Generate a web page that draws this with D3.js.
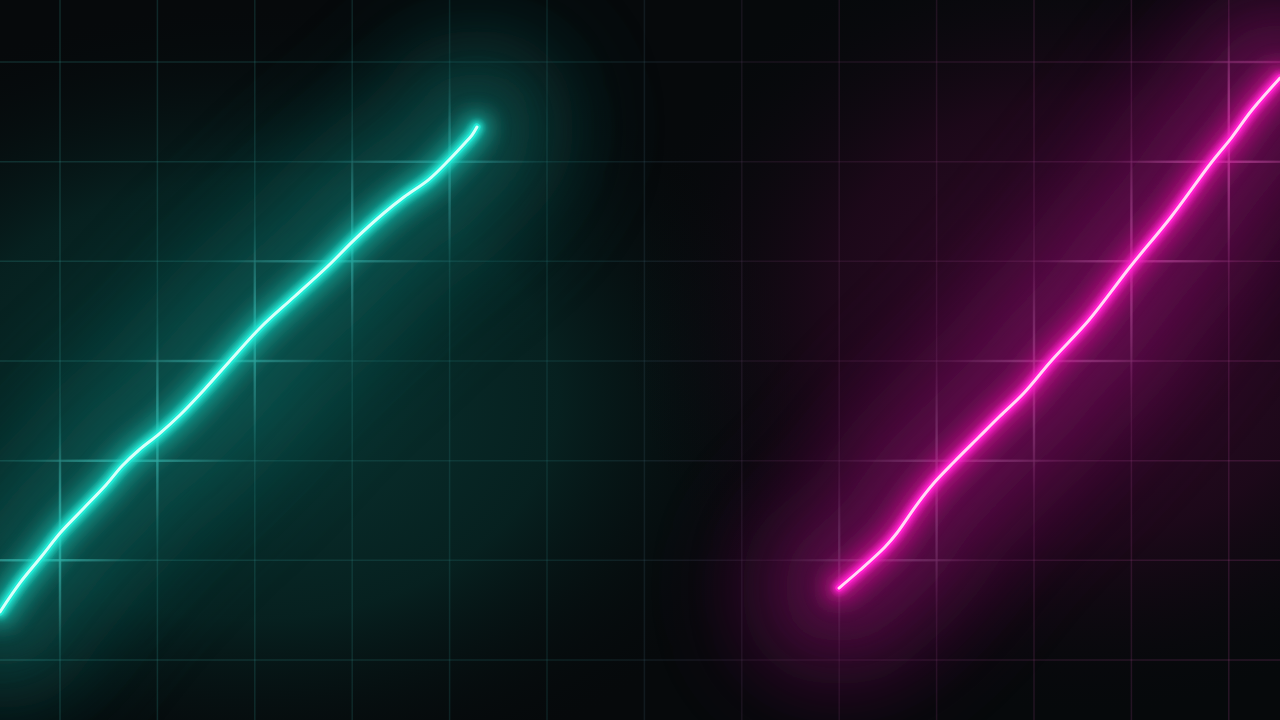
<!DOCTYPE html>
<html><head><meta charset="utf-8">
<script src="https://cdn.jsdelivr.net/npm/d3@7"></script>
<style>html,body{margin:0;padding:0;background:#06090b;overflow:hidden}svg{display:block}</style>
</head><body>
<svg id="c" width="1280" height="720"></svg>
<script>
// grid units
const gridX = [0,1,2,3,4,5,6,7,8,9,10,11,12];
const gridY = [0,1,2,3,4,5,6];
// cyan series
const cyanX = [-0.616,-0.411,-0.195,0.010,0.226,0.472,0.637,0.811,1.016,1.232,1.478,1.735,2.064,2.402,2.741,3.029,3.326,3.532,3.789,3.994,4.158,4.230,4.281];
const cyanY = [0.482,0.773,1.033,1.284,1.505,1.756,1.946,2.107,2.267,2.458,2.709,2.990,3.341,3.642,3.943,4.223,4.485,4.645,4.823,5.017,5.187,5.267,5.348];
// magenta series
const magX = [7.998,8.214,8.470,8.593,8.809,8.973,9.179,9.435,9.641,9.897,10.185,10.565,10.986,11.407,11.817,12.033,12.238,12.526];
const magY = [0.722,0.903,1.134,1.274,1.575,1.776,1.987,2.237,2.438,2.679,3.010,3.411,3.943,4.445,4.987,5.247,5.518,5.839];

const W = 1280, H = 720;
const x = d3.scaleLinear().domain([0,12]).range([60,1228.8]);
const y = d3.scaleLinear().domain([0,6]).range([660,62]);
const svg = d3.select("#c");
const defs = svg.append("defs");

function radial(id, stops){
  const g = defs.append("radialGradient").attr("id",id);
  stops.forEach(s=>g.append("stop").attr("offset",s[0]).attr("stop-color",s[1]).attr("stop-opacity",s[2]));
}
radial("tealGlow", [[0,"#0a433f",1],[0.55,"#07302d",0.75],[1,"#06090b",0]]);
radial("magGlow", [[0,"#4a0c3a",1],[0.55,"#300826",0.7],[1,"#06090b",0]]);

const lg = defs.append("linearGradient").attr("id","gridCol").attr("gradientUnits","userSpaceOnUse")
  .attr("x1",0).attr("y1",0).attr("x2",W).attr("y2",0);
[[0,"#3fb8b0"],[0.45,"#2a7f80"],[0.6,"#6a3a66"],[1,"#c04aa0"]].forEach(s=>lg.append("stop").attr("offset",s[0]).attr("stop-color",s[1]));

function blur(id, s){
  defs.append("filter").attr("id",id).attr("filterUnits","userSpaceOnUse")
    .attr("x",-400).attr("y",-400).attr("width",W+800).attr("height",H+800)
    .append("feGaussianBlur").attr("stdDeviation",s);
}
blur("b3",3); blur("b10",10); blur("b25",25); blur("b45",45);

const line = d3.line().x(d=>x(d[0])).y(d=>y(d[1])).curve(d3.curveCatmullRom.alpha(0.5));
const cyan = cyanX.map((v,i)=>[v,cyanY[i]]);
const mag = magX.map((v,i)=>[v,magY[i]]);

// background
svg.append("rect").attr("width",W).attr("height",H).attr("fill","#06090b");
svg.append("ellipse").attr("cx",250).attr("cy",400).attr("rx",560).attr("ry",400).attr("fill","url(#tealGlow)").attr("opacity",0.8);
svg.append("ellipse").attr("cx",1080).attr("cy",320).attr("rx",460).attr("ry",400).attr("fill","url(#magGlow)").attr("opacity",0.75);

// broad line glows (stacked soft layers)
function broad(data, col, op){
  const d = line(data);
  [[200,"b45",op*0.5],[120,"b45",op*0.6],[60,"b25",op*0.6]].forEach(([w,f,o])=>{
    svg.append("path").attr("d",d).attr("fill","none").attr("stroke",col).attr("stroke-width",w)
      .attr("stroke-linecap","round").attr("stroke-linejoin","round").attr("filter",`url(#${f})`).attr("opacity",o);
  });
}
broad(cyan, "#0e5c56", 0.8);
broad(mag, "#6e0e56", 0.85);

// grid
const gv = svg.append("g");
gv.selectAll("line.v").data(gridX).join("line").attr("class","v").attr("x1",d=>x(d)).attr("x2",d=>x(d)).attr("y1",0).attr("y2",H)
  .attr("stroke","url(#gridCol)").attr("stroke-width",1.5).attr("opacity",0.19);
gv.selectAll("line.h").data(gridY).join("line").attr("class","h").attr("y1",d=>y(d)).attr("y2",d=>y(d)).attr("x1",0).attr("x2",W)
  .attr("stroke","url(#gridCol)").attr("stroke-width",1.5).attr("opacity",0.19);

// brighter grid near lines via mask
const mask = defs.append("mask").attr("id","nearMask").attr("maskUnits","userSpaceOnUse").attr("x",0).attr("y",0).attr("width",W).attr("height",H);
mask.append("rect").attr("width",W).attr("height",H).attr("fill","black");
[cyan,mag].forEach(s=>mask.append("path").attr("d",line(s)).attr("fill","none").attr("stroke","white").attr("stroke-width",90).attr("filter","url(#b25)"));
const gb = svg.append("g").attr("mask","url(#nearMask)");
gb.selectAll("line.v").data(gridX).join("line").attr("class","v").attr("x1",d=>x(d)).attr("x2",d=>x(d)).attr("y1",0).attr("y2",H)
  .attr("stroke","url(#gridCol)").attr("stroke-width",2.5).attr("opacity",0.7);
gb.selectAll("line.h").data(gridY).join("line").attr("class","h").attr("y1",d=>y(d)).attr("y2",d=>y(d)).attr("x1",0).attr("x2",W)
  .attr("stroke","url(#gridCol)").attr("stroke-width",2.5).attr("opacity",0.7);

// neon lines
function neon(data, glowCol, midCol, coreCol){
  const d = line(data);
  svg.append("path").attr("d",d).attr("fill","none").attr("stroke",glowCol).attr("stroke-width",30).attr("stroke-linecap","round").attr("filter","url(#b10)").attr("opacity",0.65);
  svg.append("path").attr("d",d).attr("fill","none").attr("stroke",midCol).attr("stroke-width",12).attr("stroke-linecap","round").attr("filter","url(#b3)").attr("opacity",1);
  svg.append("path").attr("d",d).attr("fill","none").attr("stroke",midCol).attr("stroke-width",7).attr("stroke-linecap","round");
  svg.append("path").attr("d",d).attr("fill","none").attr("stroke",coreCol).attr("stroke-width",3).attr("stroke-linecap","round");
}
neon(cyan, "#12c4b4", "#22e8d4", "#d8fff9");
neon(mag, "#e0109c", "#ff20cc", "#ffdaf4");
</script>
</body></html>
